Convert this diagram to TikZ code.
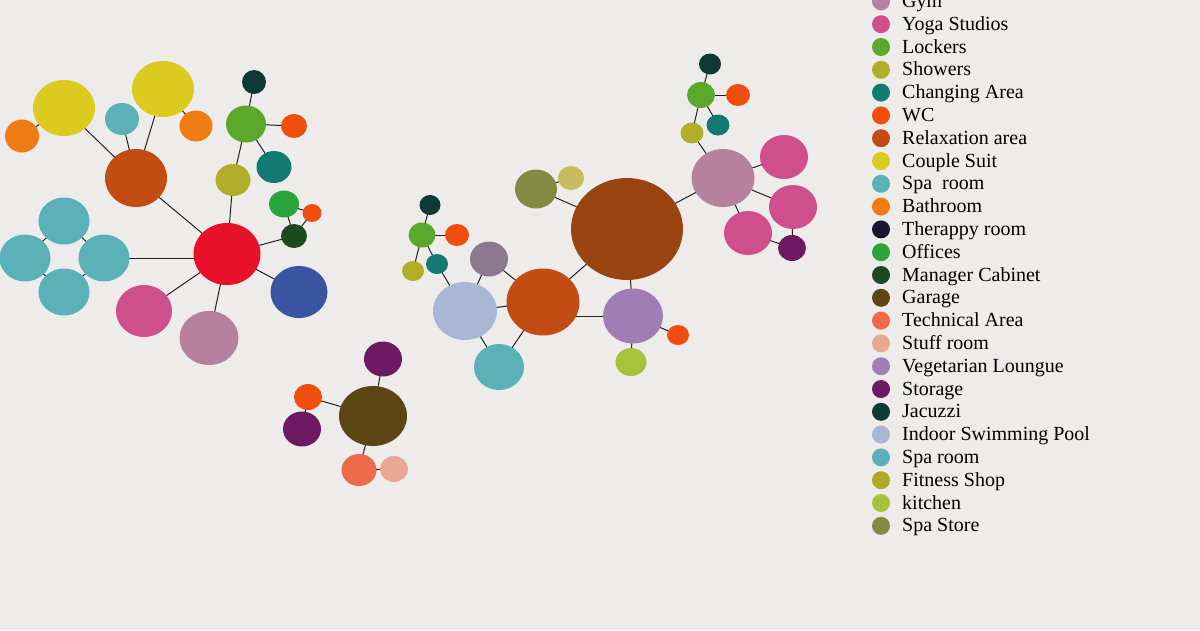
\documentclass[tikz,border=0pt]{standalone}
\usepackage{fontspec}
\setmainfont{Liberation Serif}
\usetikzlibrary{shapes.geometric}
\pgfdeclarelayer{bgl}
\pgfdeclarelayer{edges}
\pgfsetlayers{bgl,edges,main}
\definecolor{bg}{RGB}{237,236,234}
\definecolor{cgym}{HTML}{B5819F}
\definecolor{cyoga}{HTML}{CF4F8C}
\definecolor{clock}{HTML}{5BA92A}
\definecolor{cshow}{HTML}{B3AE2A}
\definecolor{cchg}{HTML}{127A72}
\definecolor{cwc}{HTML}{F04E0E}
\definecolor{crelax}{HTML}{C24C14}
\definecolor{ccouple}{HTML}{DCCB1F}
\definecolor{cspa}{HTML}{5AB2B8}
\definecolor{cbath}{HTML}{EE7C12}
\definecolor{cther}{HTML}{1A1530}
\definecolor{coff}{HTML}{29A53B}
\definecolor{cman}{HTML}{1B4A1F}
\definecolor{cgar}{HTML}{5C4616}
\definecolor{ctech}{HTML}{EE6B4A}
\definecolor{cstuff}{HTML}{E9A892}
\definecolor{cveg}{HTML}{A07DB3}
\definecolor{csto}{HTML}{6E1A63}
\definecolor{cjac}{HTML}{0E3A33}
\definecolor{cpool}{HTML}{A9B7D6}
\definecolor{cfit}{HTML}{AFAA25}
\definecolor{cfitlight}{HTML}{C8BC60}
\definecolor{ckit}{HTML}{A8C23A}
\definecolor{cstore}{HTML}{838A44}
\definecolor{cred}{HTML}{E8112A}
\definecolor{cblue}{HTML}{3A56A3}
\definecolor{cbig}{HTML}{9A4511}
\definecolor{cmauve}{HTML}{8D7890}
\definecolor{cline}{HTML}{222222}
\tikzset{
  bub/.style={ellipse, inner sep=0pt, outer sep=0pt, draw=none},
  link/.style={draw=cline, line width=1pt},
  legdot/.style={circle, inner sep=0pt, minimum size=18pt, draw=none},
  legtext/.style={anchor=base west, inner sep=0pt, font=\fontsize{20}{22}\selectfont, text=black}
}
\newcommand\bub[5]{\node[bub, fill=#5, minimum width=#3pt, minimum height=#4pt] (#1) at (#2) {};}
\newcommand\lk[2]{\begin{pgfonlayer}{edges}\draw[link] (#1.center) -- (#2.center);\end{pgfonlayer}}
\begin{document}
\begin{tikzpicture}[x=1pt,y=-1pt]
\useasboundingbox (0,0) rectangle (1200,630);
\begin{pgfonlayer}{bgl}
\fill[bg] (0,0) rectangle (1200,630);
\end{pgfonlayer}
% ---------- left cluster
\bub{Lcs1}{64,108}{62}{56}{ccouple}
\bub{Lbath1}{22,136}{34}{33}{cbath}
\bub{Lcs2}{163,89}{62}{56}{ccouple}
\bub{Lspa}{122,119}{34}{32}{cspa}
\bub{Lbath2}{196,126}{33}{31}{cbath}
\bub{Lrelax}{136,178}{62}{58}{crelax}
\bub{Ljac}{254,82}{24}{24}{cjac}
\bub{Llock}{246,124}{40}{37}{clock}
\bub{Lwc}{294,126}{26}{24}{cwc}
\bub{Lchg}{274,167}{35}{32}{cchg}
\bub{Lshow}{233,180}{35}{32}{cshow}
\bub{Loff}{284,204}{30}{27}{coff}
\bub{Lwcb}{312,213}{19}{18}{cwc}
\bub{Lman}{294,236}{26}{24}{cman}
\bub{Lred}{227,254}{67}{62}{cred}
\bub{Lblue}{299,292}{57}{52}{cblue}
\bub{LspaT}{64,221}{51}{47}{cspa}
\bub{LspaL}{25,258}{51}{47}{cspa}
\bub{LspaR}{104,258}{51}{47}{cspa}
\bub{LspaB}{64,292}{51}{47}{cspa}
\bub{Lyoga}{144,311}{56}{52}{cyoga}
\bub{Lgym}{209,338}{59}{54}{cgym}
\lk{Lcs1}{Lbath1}
\lk{Lcs1}{Lrelax}
\lk{Lspa}{Lrelax}
\lk{Lcs2}{Lrelax}
\lk{Lcs2}{Lbath2}
\lk{Lrelax}{Lred}
\lk{Llock}{Ljac}
\lk{Llock}{Lwc}
\lk{Llock}{Lchg}
\lk{Llock}{Lshow}
\lk{Lshow}{Lred}
\lk{Loff}{Lwcb}
\lk{Loff}{Lman}
\lk{Lwcb}{Lman}
\lk{Lman}{Lred}
\lk{Lred}{Lblue}
\begin{pgfonlayer}{edges}\draw[link] (LspaR.center) -- (LspaR.center -| Lred.center);\end{pgfonlayer}
\lk{Lred}{Lyoga}
\lk{Lred}{Lgym}
\lk{LspaT}{LspaL}
\lk{LspaT}{LspaR}
\lk{LspaL}{LspaB}
\lk{LspaR}{LspaB}
% ---------- middle cluster
\bub{Mjac}{430,205}{21}{20}{cjac}
\bub{Mlock}{422,235}{27}{25}{clock}
\bub{Mwc}{457,235}{24}{22}{cwc}
\bub{Mchg}{437,264}{22}{20}{cchg}
\bub{Mshow}{413,271}{22}{20}{cshow}
\bub{Mmauve}{489,259}{38}{35}{cmauve}
\bub{Mpool}{465,311}{64}{58}{cpool}
\bub{Mctr}{543,302}{73}{67}{crelax}
\bub{Mspa}{499,367}{50}{46}{cspa}
\bub{Mstore}{536,189}{42}{39}{cstore}
\bub{Mfit}{571,178}{26}{24}{cfitlight}
\bub{Mbig}{627,229}{112}{102}{cbig}
\bub{Mveg}{633,316}{60}{55}{cveg}
\bub{Mwcb}{678,335}{22}{20}{cwc}
\bub{Mkit}{631,362}{31}{28}{ckit}
\lk{Mjac}{Mlock}
\lk{Mlock}{Mwc}
\lk{Mlock}{Mshow}
\lk{Mlock}{Mchg}
\lk{Mchg}{Mpool}
\lk{Mmauve}{Mpool}
\lk{Mmauve}{Mctr}
\lk{Mpool}{Mctr}
\lk{Mpool}{Mspa}
\lk{Mctr}{Mspa}
\lk{Mctr}{Mbig}
\begin{pgfonlayer}{edges}\draw[link] (Mveg.center) -- (Mveg.center -| Mctr.center);\end{pgfonlayer}
\lk{Mbig}{Mveg}
\lk{Mbig}{Mstore}
\lk{Mstore}{Mfit}
\lk{Mveg}{Mwcb}
\lk{Mveg}{Mkit}
% ---------- right cluster
\bub{Rjac}{710,64}{22}{21}{cjac}
\bub{Rlock}{701,95}{28}{26}{clock}
\bub{Rwc}{738,95}{24}{22}{cwc}
\bub{Rchg}{718,125}{23}{21}{cchg}
\bub{Rshow}{692,133}{23}{21}{cshow}
\bub{Rgym}{723,178}{63}{58}{cgym}
\bub{Ry1}{784,157}{48}{44}{cyoga}
\bub{Ry2}{793,207}{48}{44}{cyoga}
\bub{Ry3}{748,233}{48}{44}{cyoga}
\bub{Rsto}{792,248}{28}{26}{csto}
\lk{Rjac}{Rlock}
\lk{Rlock}{Rwc}
\lk{Rlock}{Rchg}
\lk{Rlock}{Rshow}
\lk{Rshow}{Rgym}
\lk{Rgym}{Ry1}
\lk{Rgym}{Ry2}
\lk{Rgym}{Ry3}
\lk{Ry2}{Rsto}
\lk{Ry3}{Rsto}
\lk{Rgym}{Mbig}
% ---------- bottom cluster
\bub{Bsto1}{383,359}{38}{35}{csto}
\bub{Bgar}{373,416}{68}{60}{cgar}
\bub{Bwc}{308,397}{28}{26}{cwc}
\bub{Bsto2}{302,429}{38}{35}{csto}
\bub{Btech}{359,470}{35}{32}{ctech}
\bub{Bstuff}{394,469}{28}{26}{cstuff}
\lk{Bsto1}{Bgar}
\lk{Bwc}{Bgar}
\lk{Bwc}{Bsto2}
\lk{Bgar}{Btech}
\lk{Btech}{Bstuff}
% ---------- legend
\foreach \lab/\col [count=\i from 0] in {Gym/cgym, Yoga Studios/cyoga, Lockers/clock, Showers/cshow, Changing Area/cchg, WC/cwc, Relaxation area/crelax, Couple Suit/ccouple, Spa\ \ room/cspa, Bathroom/cbath, Therappy room/cther, Offices/coff, Manager Cabinet/cman, Garage/cgar, Technical Area/ctech, Stuff room/cstuff, Vegetarian Loungue/cveg, Storage/csto, Jacuzzi/cjac, Indoor Swimming Pool/cpool, Spa room/cspa, Fitness Shop/cfit, kitchen/ckit, Spa Store/cstore}{
  \node[legdot, fill=\col] (d\i) at (881,{1.4+22.8*\i}) {};
  \node[legtext] (t\i) at (902,{7.4+22.8*\i}) {\lab};
}
\end{tikzpicture}
\end{document}
